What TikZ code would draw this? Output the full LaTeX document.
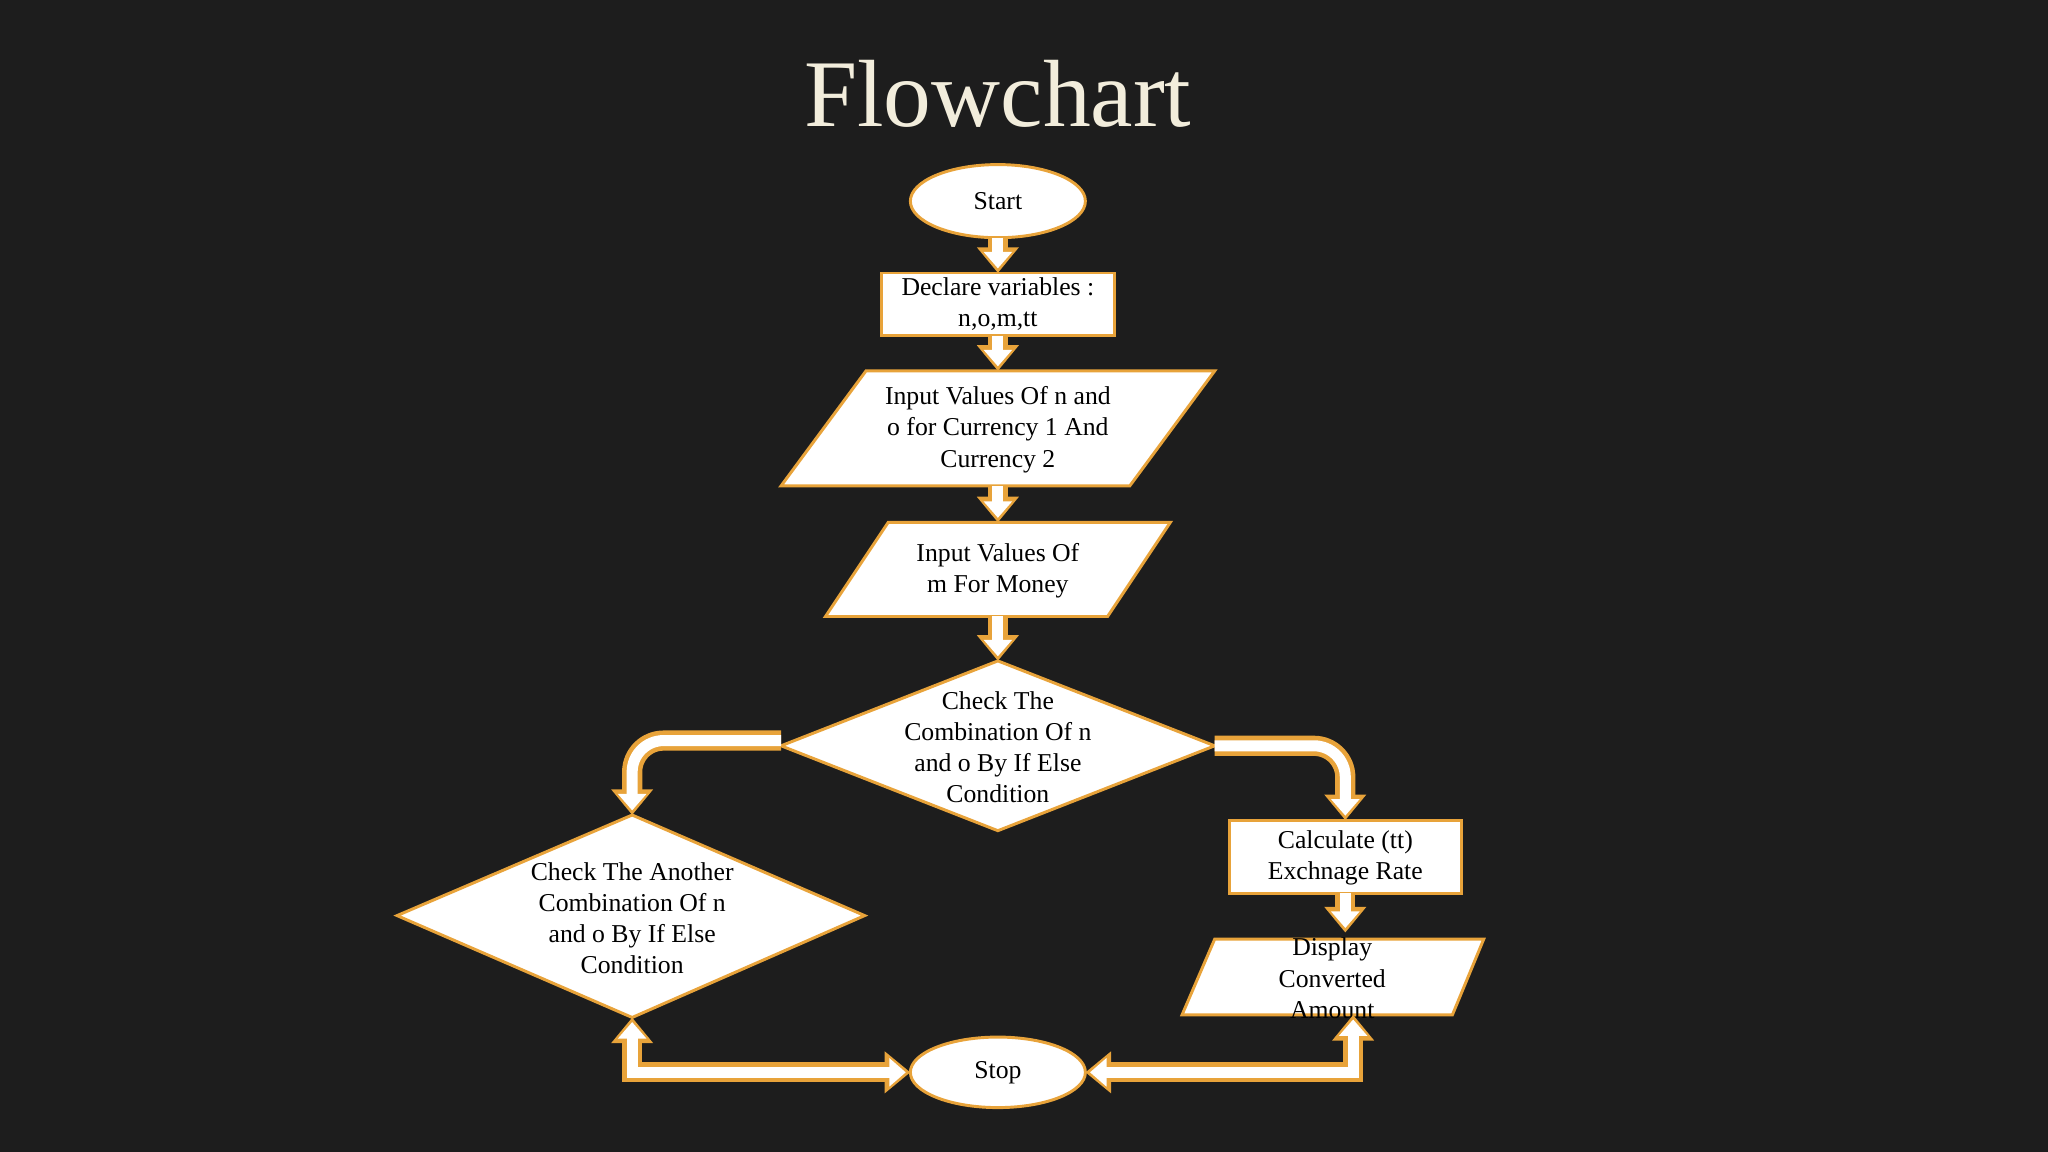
\documentclass[tikz,border=0pt]{standalone}
\usepackage{fontspec}
\setmainfont{Liberation Serif}
\usetikzlibrary{positioning,calc,shapes.geometric,arrows.meta,backgrounds}
\definecolor{bgdark}{HTML}{1D1D1D}
\definecolor{edgeorange}{HTML}{E8A33A}
\definecolor{titlecream}{HTML}{F2EDDC}
\tikzset{
  box/.style={draw=edgeorange,fill=white,line width=1.6pt},
  txt/.style={align=center,font=\fontsize{14}{17}\selectfont,text=black,inner sep=0pt},
  flowout/.style={draw=edgeorange,line width=11pt,-{Triangle[length=14pt,width=22pt]}},
  flowin/.style={draw=white,line width=6pt,-{Triangle[length=9pt,width=15pt]},shorten >=2.5pt},
}
\newcommand{\flow}[1]{\draw[flowout,rounded corners=0.6cm] #1; \draw[flowin,rounded corners=0.6cm] #1;}
\begin{document}
\begin{tikzpicture}[x=0.025cm,y=-0.025cm]
  \fill[bgdark] (0,0) rectangle (1568,882);
  \node (title) at (764,72) [text=titlecream,font=\fontsize{52}{60}\selectfont] {Flowchart};
  % shapes
  \draw[box] (764,154) ellipse [x radius=67,y radius=28];
  \draw[box] (675,209) rectangle (853,257);
  \draw[box] (663,284) -- (930,284) -- (865,372) -- (598,372) -- cycle;
  \draw[box] (680,400) -- (896,400) -- (848,472) -- (632,472) -- cycle;
  \draw[box] (764,506) -- (930,571) -- (764,636) -- (598,571) -- cycle;
  \draw[box] (484,624) -- (662,701) -- (484,779) -- (304,701) -- cycle;
  \draw[box] (941,628) rectangle (1119,684);
  \draw[box] (930,719) -- (1136,719) -- (1112,777) -- (905,777) -- cycle;
  \draw[box] (764,821) ellipse [x radius=67,y radius=27];
  % texts
  \node (start) at (764,154) [txt] {Start};
  \node (decl) at (764,233) [txt] {Declare variables :\\n,o,m,tt};
  \node (inpnm) at (764,329) [txt] {Input Values Of n and\\o for Currency 1 And\\Currency 2};
  \node (inpm) at (764,437) [txt] {Input Values Of\\m For Money};
  \node (chk) at (764,572) [txt] {Check The\\Combination Of n\\and o By If Else\\Condition};
  \node (chk2) at (484,703) [txt] {Check The Another\\Combination Of n\\and o By If Else\\Condition};
  \node (calc) at (1030,657) [txt] {Calculate (tt)\\Exchnage Rate};
  \node (disp) at (1020,749) [txt] {Display\\Converted\\Amount};
  \node (stop) at (764,821) [txt] {Stop};
  % connectors
  \begin{scope}[on background layer]
  \end{scope}
  \flow{(764,182) -- (764,209)}
  \flow{(764,257) -- (764,284)}
  \flow{(764,372) -- (764,400)}
  \flow{(764,472) -- (764,506)}
  \flow{(598,567) -- (484,567) -- (484,624)}
  \flow{(930,571) -- (1030,571) -- (1030,628)}
  \flow{(1030,684) -- (1030,714)}
  \draw[draw=edgeorange,line width=11pt,{Triangle[length=14pt,width=22pt]}-{Triangle[length=14pt,width=22pt]}] (484,779) -- (484,821) -- (697,821);
  \draw[draw=white,line width=6pt,{Triangle[length=9pt,width=15pt]}-{Triangle[length=9pt,width=15pt]},shorten >=2.5pt,shorten <=2.5pt] (484,779) -- (484,821) -- (697,821);
  \draw[draw=edgeorange,line width=11pt,{Triangle[length=14pt,width=22pt]}-{Triangle[length=14pt,width=22pt]}] (1036,777) -- (1036,821) -- (831,821);
  \draw[draw=white,line width=6pt,{Triangle[length=9pt,width=15pt]}-{Triangle[length=9pt,width=15pt]},shorten >=2.5pt,shorten <=2.5pt] (1036,777) -- (1036,821) -- (831,821);
\end{tikzpicture}
\end{document}
